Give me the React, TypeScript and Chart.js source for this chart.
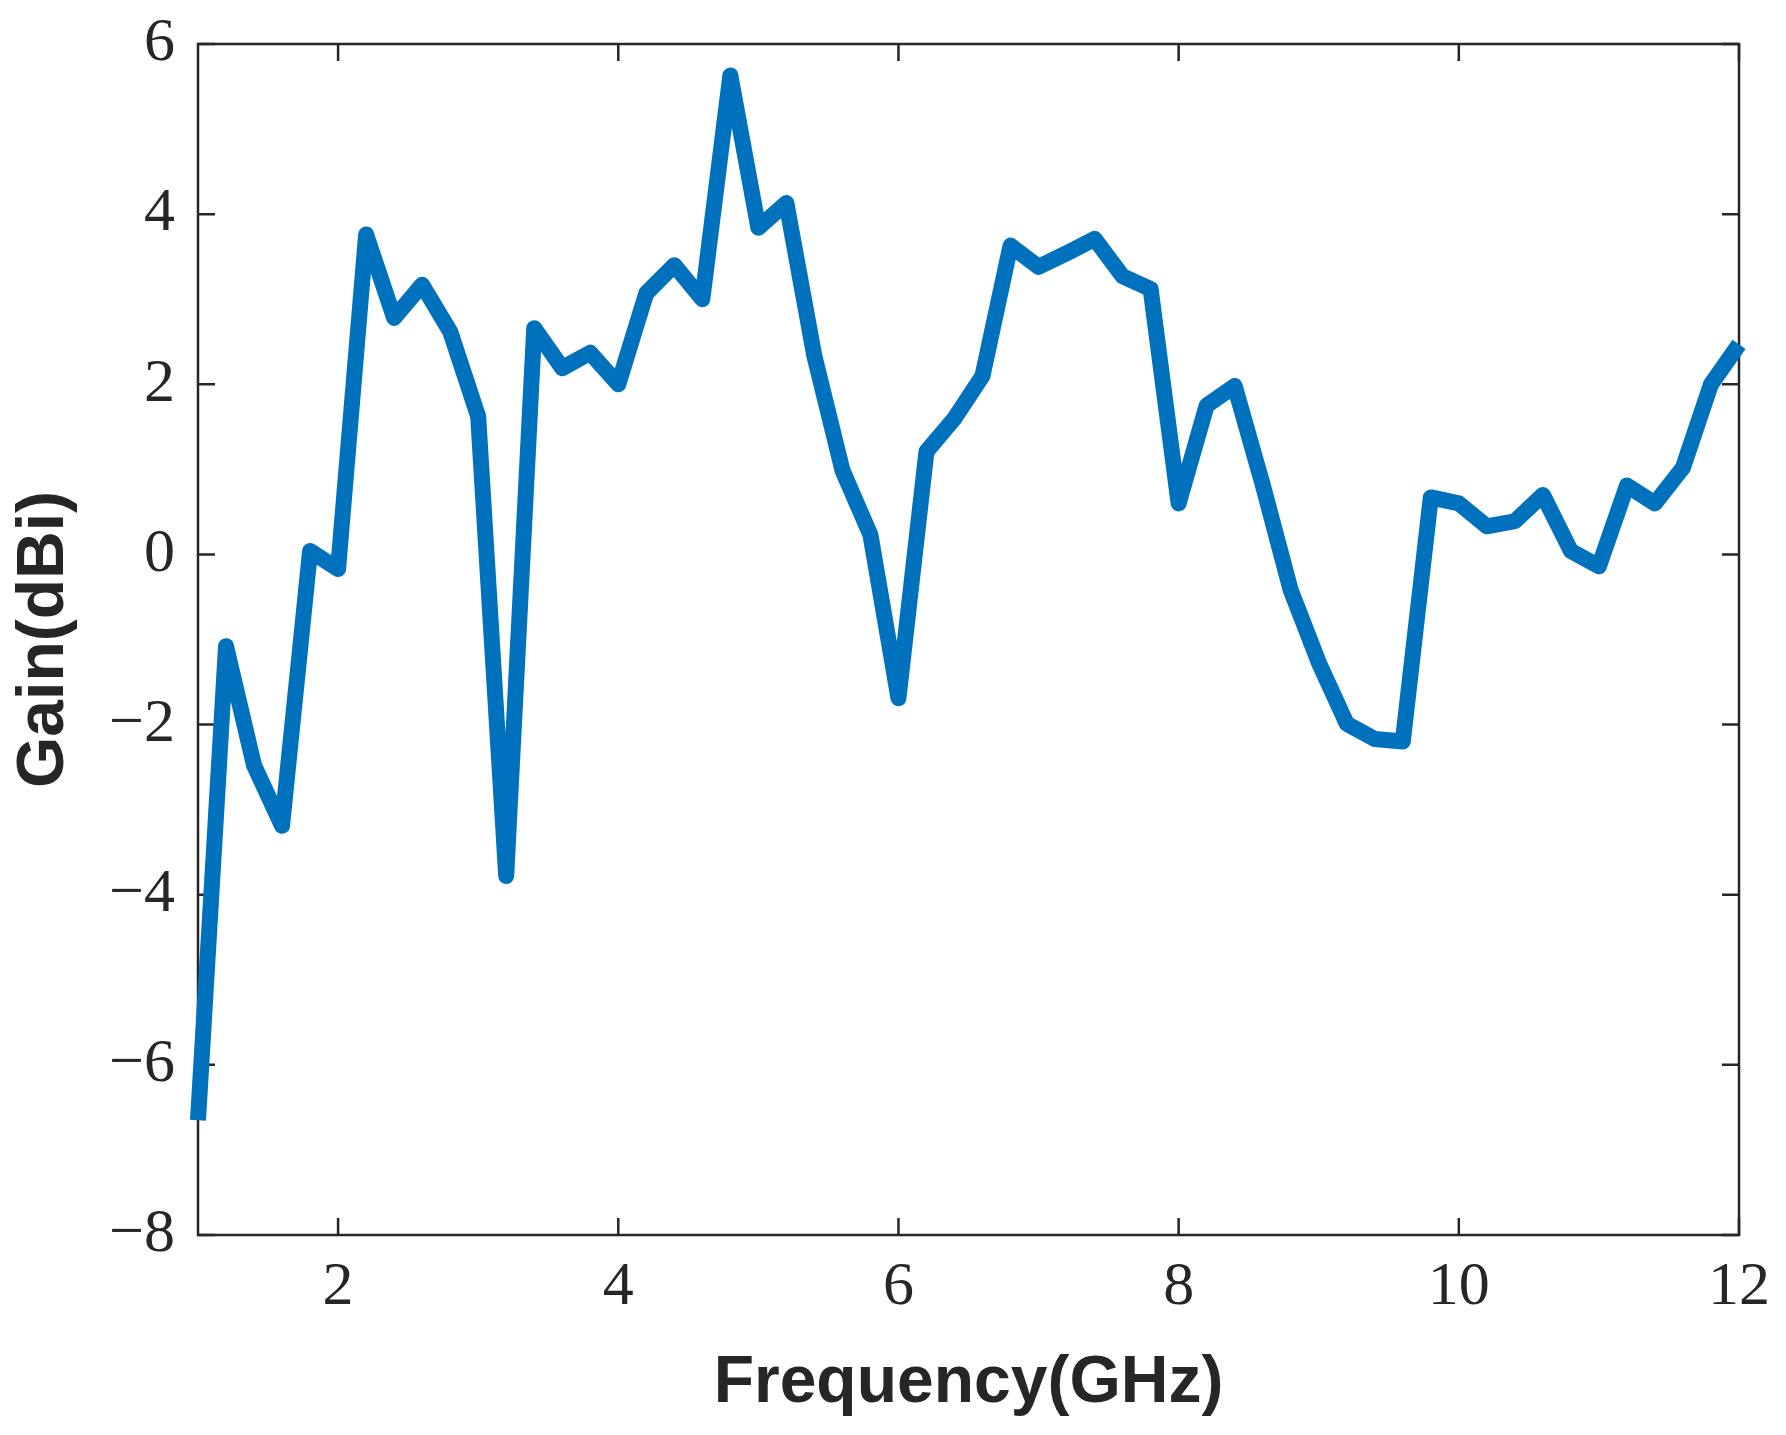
import React, { useEffect, useRef } from "react";
import { Chart, registerables } from "chart.js";

Chart.register(...registerables);

const frequencies = [
  1.0, 1.2, 1.4, 1.6, 1.8, 2.0, 2.2, 2.4, 2.6, 2.8, 3.0, 3.2, 3.4, 3.6, 3.8, 4.0,
  4.2, 4.4, 4.6, 4.8, 5.0, 5.2, 5.4, 5.6, 5.8, 6.0, 6.2, 6.4, 6.6, 6.8, 7.0, 7.2,
  7.4, 7.6, 7.8, 8.0, 8.2, 8.4, 8.6, 8.8, 9.0, 9.2, 9.4, 9.6, 9.8, 10.0, 10.2,
  10.4, 10.6, 10.8, 11.0, 11.2, 11.4, 11.6, 11.8, 12.0,
];

const gains = [
  -6.65, -1.08, -2.48, -3.19, 0.04, -0.17, 3.76, 2.78, 3.17, 2.62, 1.62, -3.78,
  2.66, 2.19, 2.37, 2.0, 3.07, 3.4, 3.0, 5.63, 3.84, 4.13, 2.33, 0.99, 0.23,
  -1.69, 1.21, 1.6, 2.1, 3.63, 3.38, 3.54, 3.71, 3.27, 3.12, 0.6, 1.75, 1.98,
  0.82, -0.42, -1.27, -1.99, -2.17, -2.2, 0.67, 0.6, 0.33, 0.39, 0.7, 0.04,
  -0.14, 0.81, 0.6, 1.02, 2.0, 2.47,
];

const xTickValues = [2, 4, 6, 8, 10, 12];
const yTickValues = [-8, -6, -4, -2, 0, 2, 4, 6];

const xTitle = "Frequency(GHz)";
const yTitle = "Gain(dBi)";

const INK = "#262626";

const framePlugin = {
  id: "matlabFrame",
  beforeDatasetsDraw(chart: any) {
    const { ctx, chartArea: a, scales } = chart;
    const L = 17;
    ctx.save();
    ctx.strokeStyle = INK;
    ctx.lineWidth = 2.5;
    ctx.lineCap = "butt";
    ctx.beginPath();
    scales.x.ticks.forEach((t: any) => {
      const px = scales.x.getPixelForValue(t.value);
      ctx.moveTo(px, a.bottom);
      ctx.lineTo(px, a.bottom - L);
      ctx.moveTo(px, a.top);
      ctx.lineTo(px, a.top + L);
    });
    scales.y.ticks.forEach((t: any) => {
      const py = scales.y.getPixelForValue(t.value);
      ctx.moveTo(a.left, py);
      ctx.lineTo(a.left + L, py);
      ctx.moveTo(a.right, py);
      ctx.lineTo(a.right - L, py);
    });
    ctx.stroke();
    ctx.strokeRect(a.left, a.top, a.right - a.left, a.bottom - a.top);
    ctx.restore();
  },
};

export default function App() {
  const ref = useRef<HTMLCanvasElement | null>(null);

  useEffect(() => {
    document.body.style.margin = "0";
    const canvas = ref.current;
    if (!canvas) return;
    const chart = new Chart(canvas, {
      type: "line",
      data: {
        datasets: [
          {
            data: frequencies.map((f, i) => ({ x: f, y: gains[i] })),
            borderColor: "#0072BD",
            borderWidth: 16,
            borderJoinStyle: "round",
            borderCapStyle: "butt",
            pointRadius: 0,
            tension: 0,
            fill: false,
            clip: false as any,
          },
        ],
      },
      options: {
        animation: false,
        responsive: false,
        devicePixelRatio: 1,
        layout: { padding: { left: 0, right: 47, top: 44, bottom: 0 } },
        plugins: {
          legend: { display: false },
          tooltip: { enabled: false },
          title: { display: false },
        },
        scales: {
          x: {
            type: "linear",
            min: 1,
            max: 12,
            afterBuildTicks: (s: any) => {
              s.ticks = xTickValues.map((v) => ({ value: v }));
            },
            afterFit: (s: any) => {
              s.height = 200;
            },
            grid: { display: false, drawTicks: true, tickLength: 16 },
            border: { display: false },
            ticks: {
              padding: 0,
              maxRotation: 0,
              autoSkip: false,
              color: INK,
              font: { family: "Liberation Serif", size: 62 },
              callback: (v: any) => String(v),
            },
            title: {
              display: true,
              text: xTitle,
              color: INK,
              font: { family: "Liberation Sans", size: 66, weight: "bold" },
              padding: { top: 0, bottom: 12 },
            },
          },
          y: {
            type: "linear",
            min: -8,
            max: 6,
            afterBuildTicks: (s: any) => {
              s.ticks = yTickValues.map((v) => ({ value: v }));
            },
            afterFit: (s: any) => {
              s.width = 198;
            },
            grid: { display: false, drawTicks: true, tickLength: 23 },
            border: { display: false },
            ticks: {
              padding: 0,
              autoSkip: false,
              color: INK,
              font: { family: "Liberation Serif", size: 62 },
              callback: (v: any) => String(v).replace("-", "\u2212"),
            },
            title: {
              display: true,
              text: yTitle,
              color: INK,
              font: { family: "Liberation Sans", size: 66, weight: "bold" },
              padding: { top: 5, bottom: 0 },
            },
          },
        },
      },
      plugins: [framePlugin],
    });
    return () => chart.destroy();
  }, []);

  return (
    <div style={{ width: 1786, height: 1435, background: "#fff" }}>
      <canvas ref={ref} width={1786} height={1435} style={{ display: "block" }} />
    </div>
  );
}
